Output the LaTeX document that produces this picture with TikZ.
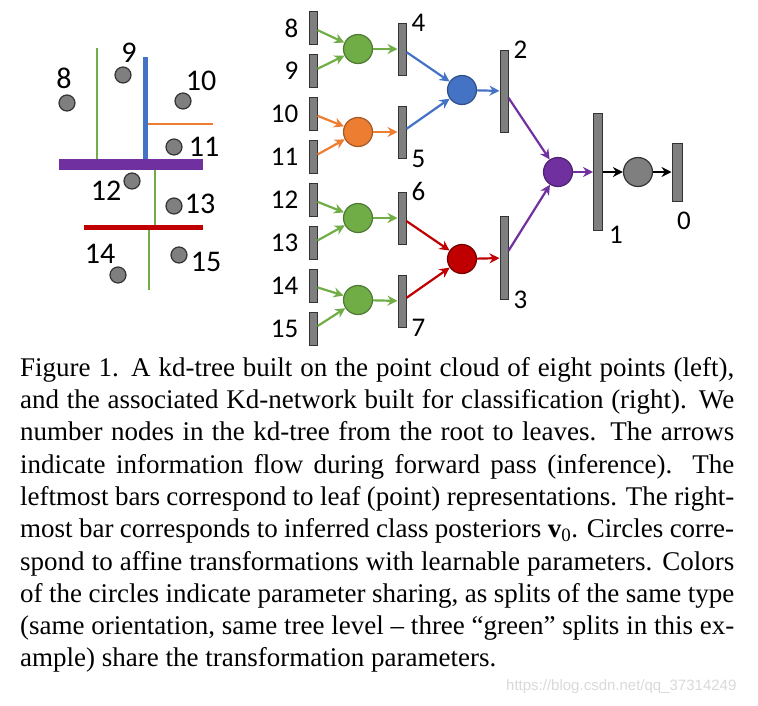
\documentclass[tikz,border=0pt]{standalone}
\usepackage{fontspec}
\setmainfont{Liberation Serif}
\newfontfamily\labfont{Carlito}
\newfontfamily\wmfont{Liberation Sans}
\usetikzlibrary{arrows.meta, positioning}
\definecolor{cGreen}{RGB}{112,173,71}
\definecolor{cOrange}{RGB}{237,125,49}
\definecolor{cBlue}{RGB}{68,114,196}
\definecolor{cRed}{RGB}{192,0,0}
\definecolor{cPurple}{RGB}{112,48,160}
\definecolor{cGray}{RGB}{127,127,127}
\newcommand{\capline}[1]{\makebox[714pt][s]{#1}}

\begin{document}
\begin{tikzpicture}[x=1pt, y=-1pt,
          bar/.style={draw=black!80, fill=cGray, line width=1pt, inner sep=0pt, minimum width=8pt},
          op/.style={circle, line width=1.2pt, inner sep=0pt, minimum size=29pt},
          pt/.style={circle, draw=black!80, fill=cGray, line width=1.2pt, inner sep=0pt, minimum size=16pt},
          lab/.style={font=\labfont\fontsize{27}{27}\selectfont, inner sep=0pt},
          biglab/.style={font=\labfont\fontsize{30}{30}\selectfont, inner sep=0pt},
          split/.style={line width=1.3pt},
          flow/.style={->, line width=2.2pt},
          >={Stealth[length=10pt, width=10pt]}]
        \useasboundingbox (0,0) rectangle (758,705);
        % kd-tree on the point cloud
        \draw[split, cGreen] (97,48) -- (97,159);
        \draw[split, cOrange, line width=1.5pt] (148,124) -- (213,124);
        \draw[split, cGreen] (155,170) -- (155,225);
        \draw[split, cGreen] (149,230) -- (149,290);
        \draw[cBlue, line width=4.7pt] (145.7,57) -- (145.7,160);
        \draw[cPurple, line width=10.7pt] (59,164.3) -- (203,164.3);
        \draw[cRed, line width=5.3pt] (84,227.7) -- (203,227.7);
        \node[pt] (p8)  at (67,103)  {}; \node[biglab] (l8)  at (64,78)   {8};
        \node[pt] (p9)  at (123,75)  {}; \node[biglab] (l9)  at (129,53)  {9};
        \node[pt] (p10) at (183,101) {}; \node[biglab] (l10) at (201,81)  {10};
        \node[pt] (p11) at (174,147) {}; \node[biglab] (l11) at (204,147) {11};
        \node[pt] (p12) at (132,181) {}; \node[biglab] (l12) at (106,191) {12};
        \node[pt] (p13) at (174,206) {}; \node[biglab] (l13) at (200,204) {13};
        \node[pt] (p14) at (118,275) {}; \node[biglab] (l14) at (100,254) {14};
        \node[pt] (p15) at (179,255) {}; \node[biglab] (l15) at (206,262) {15};
        % Kd-network
        \node[bar, minimum height=33pt] (b8) at (313,28) {};
        \node[bar, minimum height=33pt, below=9pt of b8]  (b9)  {};
        \node[bar, minimum height=33pt, below=9pt of b9]  (b10) {};
        \node[bar, minimum height=33pt, below=9pt of b10] (b11) {};
        \node[bar, minimum height=33pt, below=9pt of b11] (b12) {};
        \node[bar, minimum height=33pt, below=9pt of b12] (b13) {};
        \node[bar, minimum height=33pt, below=9pt of b13] (b14) {};
        \node[bar, minimum height=33pt, below=9pt of b14] (b15) {};
        \node[lab, left=10pt of b8]  (t8)  {8};
        \node[lab, left=10pt of b9]  (t9)  {9};
        \node[lab, left=10pt of b10] (t10) {10};
        \node[lab, left=10pt of b11] (t11) {11};
        \node[lab, left=10pt of b12] (t12) {12};
        \node[lab, left=10pt of b13] (t13) {13};
        \node[lab, left=10pt of b14] (t14) {14};
        \node[lab, left=10pt of b15] (t15) {15};
        \node[op, fill=cGreen, draw=cGreen!70!black]   (c4) at (358,49)  {};
        \node[op, fill=cOrange, draw=cOrange!70!black] (c5) at (358,132) {};
        \node[op, fill=cGreen, draw=cGreen!70!black]   (c6) at (358,218) {};
        \node[op, fill=cGreen, draw=cGreen!70!black]   (c7) at (358,300) {};
        \node[bar, minimum height=52pt] (b4) at (402,49)  {};
        \node[bar, minimum height=52pt] (b5) at (402,132) {};
        \node[bar, minimum height=52pt] (b6) at (402,218) {};
        \node[bar, minimum height=52pt] (b7) at (402,301) {};
        \node[lab, right=5pt of b4.north east] (t4) {4};
        \node[lab, right=5pt of b5.south east] (t5) {5};
        \node[lab, right=5pt of b6.north east] (t6) {6};
        \node[lab, right=5pt of b7.south east] (t7) {7};
        \node[op, fill=cBlue, draw=cBlue!70!black] (c2) at (462,90)  {};
        \node[op, fill=cRed, draw=cRed!60!black]   (c3) at (462,259) {};
        \node[bar, minimum height=82pt] (b2) at (504,91)  {};
        \node[bar, minimum height=83pt] (b3) at (504,258) {};
        \node[lab, right=5pt of b2.north east] (t2) {2};
        \node[lab, right=5pt of b3.south east] (t3) {3};
        \node[op, fill=cPurple, draw=cPurple!70!black] (c1) at (558,172) {};
        \node[bar, minimum height=117pt, minimum width=9pt] (b1) at (598,172) {};
        \node[op, fill=cGray, draw=black!80] (c0) at (638,172) {};
        \node[bar, minimum height=58pt, minimum width=10pt] (b0) at (677,172) {};
        \node[lab, right=6pt of b1.south east, yshift=-4pt] (t1) {1};
        \node[lab, below right=10pt and 0pt of b0.south] (t0) {0};
        \draw[flow, cGreen] (b8) -- (c4); \draw[flow, cGreen] (b9) -- (c4);
        \draw[flow, cOrange] (b10) -- (c5); \draw[flow, cOrange] (b11) -- (c5);
        \draw[flow, cGreen] (b12) -- (c6); \draw[flow, cGreen] (b13) -- (c6);
        \draw[flow, cGreen] (b14) -- (c7); \draw[flow, cGreen] (b15) -- (c7);
        \draw[flow, cGreen] (c4) -- (b4); \draw[flow, cOrange] (c5) -- (b5);
        \draw[flow, cGreen] (c6) -- (b6); \draw[flow, cGreen] (c7) -- (b7);
        \draw[flow, cBlue] (b4) -- (c2); \draw[flow, cBlue] (b5) -- (c2);
        \draw[flow, cRed] (b6) -- (c3); \draw[flow, cRed] (b7) -- (c3);
        \draw[flow, cBlue] (c2) -- (b2); \draw[flow, cRed] (c3) -- (b3);
        \draw[flow, cPurple] (b2) -- (c1); \draw[flow, cPurple] (b3) -- (c1);
        \draw[flow, cPurple] (c1) -- (b1);
        \draw[flow, black] (b1) -- (c0); \draw[flow, black] (c0) -- (b0);
        % caption
        \node[anchor=north west, inner sep=0pt, align=left,
              font=\fontsize{27}{32.3}\selectfont] (cap) at (20,357) {%
          \capline{Figure 1. A kd-tree built on the point cloud of eight points (left),}\\
          \capline{and the associated Kd-network built for classification (right). We}\\
          \capline{number nodes in the kd-tree from the root to leaves. The arrows}\\
          \capline{indicate information flow during forward pass (inference). The}\\
          \capline{leftmost bars correspond to leaf (point) representations. The right-}\\
          \capline{most bar corresponds to inferred class posteriors \textbf{v}\textsubscript{0}. Circles corre-}\\
          \capline{spond to affine transformations with learnable parameters. Colors}\\
          \capline{of the circles indicate parameter sharing, as splits of the same type}\\
          \capline{(same orientation, same tree level -- three ``green'' splits in this ex-}\\
          ample) share the transformation parameters.};
        \node[anchor=base west, inner sep=0pt, text=black!15,
              font=\wmfont\fontsize{15}{15}\selectfont] (wm) at (506,690) {https://blog.csdn.net/qq\_37314249};
      \end{tikzpicture}
\end{document}
